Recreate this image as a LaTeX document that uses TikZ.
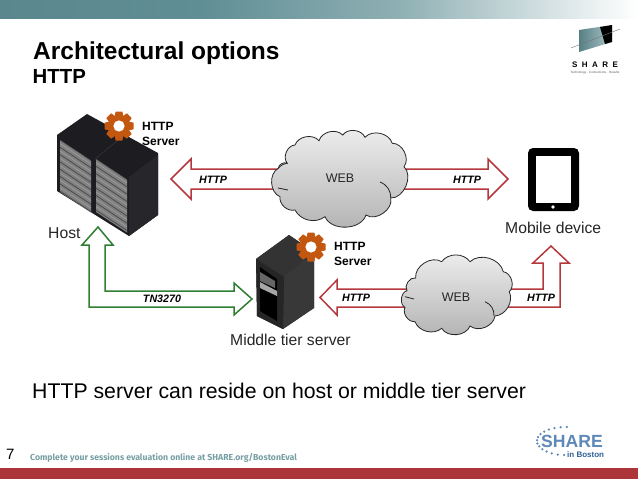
\documentclass[tikz,border=0pt]{standalone}
\usepackage{fontspec}
\setmainfont{Liberation Sans}
\newfontfamily\footfont{Fira Sans}
\usetikzlibrary{calc}
\definecolor{arrowred}{HTML}{B5383C}
\definecolor{arrowgreen}{HTML}{2F7F33}
\definecolor{gearorange}{HTML}{C4570F}
\definecolor{barteal}{HTML}{5F8E94}
\definecolor{racktop}{HTML}{1D1D21}
\definecolor{rackside}{HTML}{26262B}
\definecolor{shareblue}{HTML}{5F88BA}
\definecolor{bostonblue}{HTML}{2F5F95}
\tikzset{
  blockred/.style={draw=arrowred,fill=white,line width=1.5pt,line join=miter},
  blockgreen/.style={draw=arrowgreen,fill=white,line width=1.5pt,line join=miter},
  cloudbody/.style={draw=black!85,line width=0.8pt,top color=black!7,bottom color=black!30},
  cloudline/.style={draw=black!85,line width=0.8pt},
  lbl/.style={inner sep=0pt,anchor=base west,font=\fontsize{15.7}{18}\selectfont,text=black!85},
  srv/.style={inner sep=0pt,anchor=base west,align=left,font=\bfseries\fontsize{12}{15}\selectfont},
  proto/.style={inner sep=0pt,font=\bfseries\itshape\fontsize{10.7}{12}\selectfont},
  web/.style={inner sep=0pt,font=\fontsize{12.5}{14}\selectfont,text=black!85},
  gear/.pic={
    \foreach \a in {0,45,...,315}
      \fill[gearorange,rotate=\a] (-3.4,-14.5) -- (3.4,-14.5) -- (4.6,-8) -- (-4.6,-8) -- cycle;
    \fill[gearorange] (0,0) circle (11);
    \fill[white] (0,0) circle (5.6);
  }
}
\begin{document}
\begin{tikzpicture}[x=1pt,y=-1pt]
\useasboundingbox (0,0) rectangle (638,479);
\fill[white] (0,0) rectangle (638,479);
% top and bottom bands
\shade[left color=barteal!95!black,right color=barteal!70!white,middle color=barteal] (0,0) rectangle (400,18);
\shade[left color=barteal!70!white,right color=white] (400,0) rectangle (638,18);
\fill[arrowred!95!black] (0,468) rectangle (638,479);
% titles
\node[inner sep=0pt,anchor=base west,font=\bfseries\fontsize{24.5}{28}\selectfont] (title) at (33,59) {Architectural options};
\node[inner sep=0pt,anchor=base west,font=\bfseries\fontsize{20.4}{24}\selectfont] (subtitle) at (32.5,83) {HTTP};
\node[inner sep=0pt,anchor=base west,font=\fontsize{21.26}{24}\selectfont] (note) at (32,398) {HTTP server can reside on host or middle tier server};
% named connector ends
\coordinate (webL) at (282,179);
\coordinate (webR) at (402,179);
\coordinate (web2L) at (408,298);
\coordinate (web2R) at (506,298);
\coordinate (hostB) at (97,245);
\coordinate (midL) at (234,299);
% block arrows
\draw[blockred] ($(webL)+(0,-10)$) -- ++(-91,0) -- ++(0,-10) -- ++(-20,20) -- ++(20,20) -- ++(0,-10) -- ++(91,0);
\draw[blockred] ($(webR)+(0,-10)$) -- ++(86,0) -- ++(0,-10) -- ++(20,20) -- ++(-20,20) -- ++(0,-10) -- ++(-86,0);
\draw[blockred] ($(web2L)+(0,-9)$) -- ++(-71,0) -- ++(0,-9) -- ++(-17,17.5) -- ++(17,17.5) -- ++(0,-8) -- ++(71,0);
\draw[blockred] ($(web2R)+(0,-9)$) -- ++(37,0) -- (543,263) -- (533,263) -- (551,246) -- (569,263) -- (560,263) -- (560,307) -- ($(web2R)+(0,9)$);
\draw[blockgreen] ($(hostB)+(8,0)$) -- ++(8,0) -- ++(-15,-18) -- ++(-16,18) -- ++(7,0) -- (89,307) -- ($(midL)+(0,8)$) -- ++(0,8) -- ++(18,-16) -- ++(-18,-16) -- ++(0,8) -- (105,291) -- cycle;
% big cloud
\path[cloudbody] (278.3,168.3) to[bend left=55] (287.3,163.3) to[bend left=65] (295,145) to[bend left=60] (319,140.7) to[bend left=60] (342.7,135) to[bend left=60] (365,137.3) to[bend left=60] (392.3,143.3) to[bend left=65] (404,166.7) to[bend left=70] (390.7,198) to[bend left=70] (366,215) to[bend left=70] (325,216.7) to[bend left=50] (295,210) to[bend left=55] (280,196.7) to[bend left=65] cycle;
\draw[cloudline] (380,182) to[bend left=35] (390.7,198);
\draw[cloudline] (278,188) -- (288,190);
\draw[cloudline] (278.3,168.3) to[bend left=20] (287.3,163.3);
% small cloud
\path[cloudbody] (415.7,278) to[bend left=65] (441.7,261.7) to[bend left=55] (470,261.7) to[bend left=60] (503.3,271.7) to[bend left=65] (509.3,291.7) to[bend left=55] (495,316) to[bend left=60] (470,326) to[bend left=65] (441.7,328.3) to[bend left=55] (415,321.7) to[bend left=60] (405,307.3) to[bend left=70] (407,290.7) to[bend left=70] cycle;
\draw[cloudline] (485,301.7) to[bend left=35] (494,316);
\draw[cloudline] (405,296.7) -- (414,299);
% clouds' labels
\node[web] (web1) at (340,178.5) {WEB};
\node[web] (web2) at (456,297.5) {WEB};
% protocol labels
\node[proto] (p1) at (213,180) {HTTP};
\node[proto] (p2) at (467,180) {HTTP};
\node[proto] (p3) at (356,298) {HTTP};
\node[proto] (p4) at (541,298) {HTTP};
\node[proto] (p5) at (162,299) {TN3270};
% host rack
\fill[racktop] (87,114) -- (158,153) -- (158,215) -- (129,236) -- (57,191) -- (57,135) -- cycle;
\fill[rackside] (129,177) -- (158,155) -- (158,215) -- (129,236) -- cycle;
\draw[black!75,line width=0.4pt] (95,159) -- (123,136);
\foreach \x/\y/\w/\h in {60/140/31/52,96/159/31/53}{
  \begin{scope}
    \clip (\x,\y) -- ++(\w,20.5) -- ++(0,\h) -- ++(-\w,-20.5) -- cycle;
    \fill[black!50] (\x-2,\y-2) rectangle (\x+\w+2,\y+\h+24);
    \foreach \k in {0,7.3,...,60}
      \draw[black!72,line width=0.7pt] (\x,\y+\k) -- ++(\w,20.5);
    \foreach \k in {3.6,10.9,...,60}
      \draw[black!38,line width=0.6pt] (\x,\y+\k) -- ++(\w,20.5);
  \end{scope}
}
\pic at (119,126) {gear};
\node[srv] (s1) at (142,145.5) {HTTP\\Server};
\node[lbl] (host) at (48,238) {Host};
% middle server
\fill[black!82] (289,235) -- (314,252) -- (314,308) -- (283,329) -- (257,316) -- (256,259) -- cycle;
\fill[black!80] (256,259) -- (289,235) -- (314,252) -- (284,277) -- cycle;
\fill[black!78] (284,277) -- (314,252) -- (314,308) -- (283,329) -- cycle;
\fill[black!85] (256,259) -- (284,277) -- (283,329) -- (257,316) -- cycle;
\fill[black] (260,267) -- (277,279) -- (277,321) -- (260,311) -- cycle;
\fill[black!35] (260,282) -- (277,291) -- (277,296) -- (260,288) -- cycle;
\fill[black!60] (260,272) -- (275,281) -- (275,288) -- (260,281) -- cycle;
\pic at (311,247) {gear};
\node[srv] (s2) at (334,265.5) {HTTP\\Server};
\node[lbl] (mid) at (230,345) {Middle tier server};
% tablet
\fill[black,rounded corners=5pt] (528,148) rectangle (579,211);
\fill[white] (536,156) rectangle (571,203);
\fill[white] (553,207) circle (1.9);
\node[lbl] (mobile) at (505,233.5) {Mobile device};
% footer
\node[inner sep=0pt,anchor=base west,font=\fontsize{15}{18}\selectfont] (page) at (6,459.5) {7};
\node[inner sep=0pt,anchor=base west,text=barteal!85!white,font=\footfont\bfseries\fontsize{8.7}{11}\selectfont] (foot) at (30,460.5) {Complete your sessions evaluation online at SHARE.org/BostonEval};
% SHARE in Boston logo
\foreach \a in {92,105,118,131,144,157,170,183,196,209,222,235,248,261,274}
  \fill[shareblue] ($(565,441)+(\a:28 and 14)$) circle (1.25);
\node[inner sep=0pt,anchor=base west,text=shareblue,font=\bfseries\fontsize{17.6}{22}\selectfont] (share2) at (541,447.5) {SHARE};
\node[inner sep=0pt,anchor=base west,text=bostonblue,font=\bfseries\fontsize{8}{10}\selectfont] (boston) at (567,457) {in Boston};
% SHARE top logo
\shade[left color=barteal!90!black,right color=barteal!50!white] (579,30) -- (612,25) -- (612,42) -- (579,52) -- cycle;
\fill[black] (600,27) -- (612,25) -- (612,42) -- (605,44) -- cycle;
\draw[black!55,line width=0.4pt] (571,48) -- (620,29);
\node[inner sep=0pt,anchor=base,font=\bfseries\fontsize{8}{10}\selectfont] (share1) at (595,67) {S\hspace{4.5pt}H\hspace{4.5pt}A\hspace{4.5pt}R\hspace{4.5pt}E};
\node[inner sep=0pt,anchor=base,text=black!65,font=\fontsize{3.1}{4}\selectfont] (tag) at (595,73.5) {Technology · Connections · Results};
\end{tikzpicture}
\end{document}
